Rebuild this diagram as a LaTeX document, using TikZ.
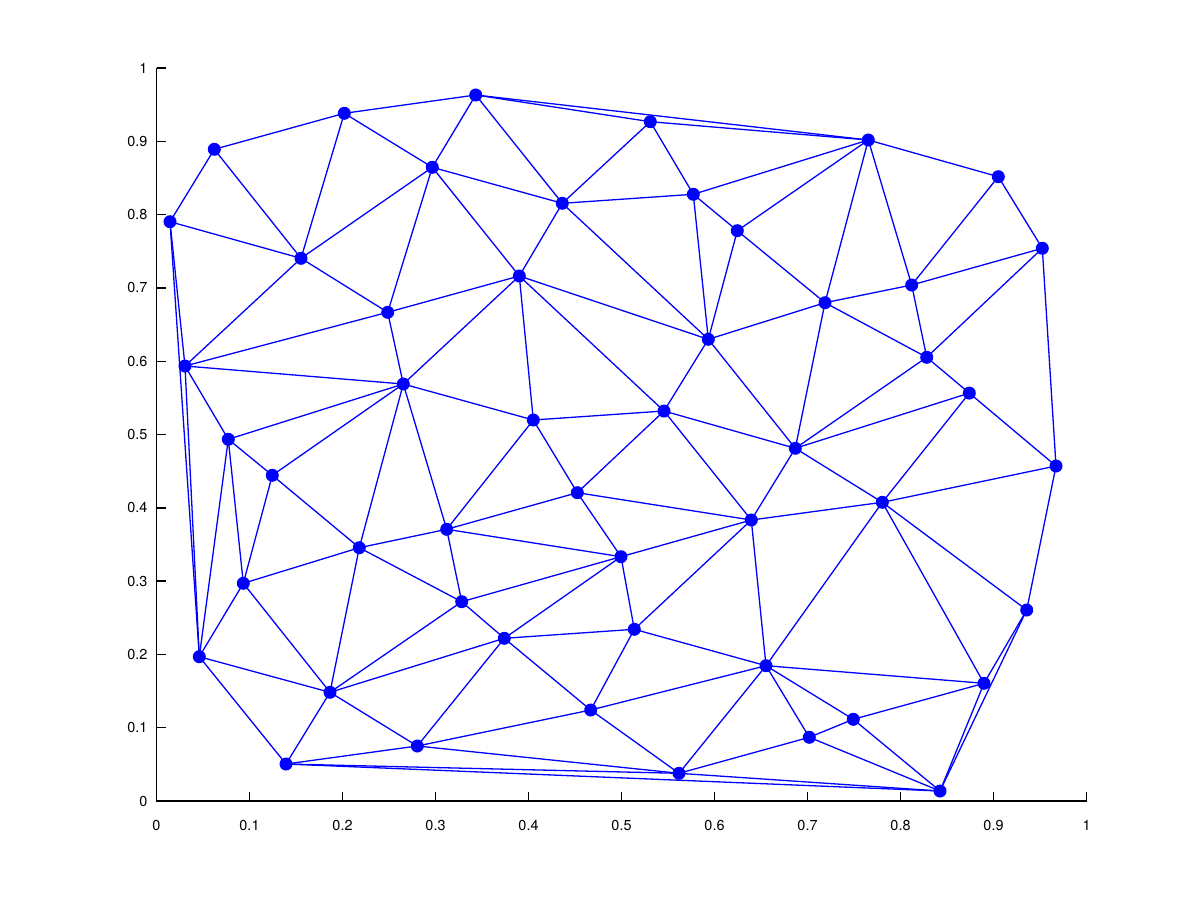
\documentclass[tikz,border=0pt]{standalone}
\usepackage{fontspec}
\setmainfont{TeX Gyre Heros}
\pgfdeclarelayer{bg}
\pgfsetlayers{bg,main}
\begin{document}
\begin{tikzpicture}[x=0.01cm,y=-0.01cm,
  edge/.style={draw=blue,line width=0.37pt},
  dot/.style={circle,fill=blue,draw=none,inner sep=0pt,minimum size=0.13cm},
  axisline/.style={draw=black,line width=0.4pt},
  lab/.style={inner sep=0pt,font=\fontsize{4.1}{5}\selectfont}]
\useasboundingbox (0,0) rectangle (1200,900);
\begin{pgfonlayer}{bg}
\fill[white] (0,0) rectangle (1200,900);
\end{pgfonlayer}
% points
\foreach \n/\px/\py in {
A/170/221.7, B/214.3/149.3, C/344.3/113.3, D/475.7/95, E/650.3/121.7,
F/868.3/140, G/998.3/176.7, H/1042.3/248.3, I/432.3/167.3, J/562.3/203.3,
K/693.3/194.3, L/737.3/230.7, M/301/258.3, N/387.7/312.3, O/519.3/276,
P/708.3/339.3, Q/825/302.7, R/911.7/285, S/926.7/357.3, T/185/366,
U/403.3/384, V/533.3/420, W/664/411, X/795.3/448.3, Y/969.3/393.1,
Z/1056/466, a/228.3/439.3, b/272.3/475.3, c/577.3/492.7, d/751.3/520,
e/882.3/502.3, f/359.3/547.7, g/446.7/529.3, h/621/556.7, i/243.3/583.3,
j/461.7/601.7, k/504.3/638.3, l/634.3/629.3, m/1026.7/610, n/199.3/656.7,
o/766/665.7, p/330/692.3, q/590.7/710, r/853.3/719.3, s/984/683.3,
t/809.3/737.3, u/417.3/746, v/286/764, w/679/773.3, x/940/791}
  \node[dot] (v\n) at (\px,\py) {};
% triangulation edges
\begin{pgfonlayer}{bg}
\foreach \a/\b in {
A/B, A/M, A/T, A/n, B/C, B/M, C/D, C/M, C/I, D/I, D/J, D/E, D/F, E/F, E/J,
E/K, F/K, F/L, F/Q, F/R, F/G, G/R, G/H, H/R, H/S, H/Z, R/S, R/Q, Q/S, S/X,
S/Y, Y/Z, Y/e, Y/X, Z/e, Z/m, e/d, e/X, e/o, e/s, e/m, P/O, P/J, P/K,
P/L, P/Q, P/W, P/X, W/O, W/V, W/c, W/X, W/d, X/d, X/Q, d/c, d/h, d/l, d/o,
U/N, U/O, U/V, U/g, U/T, U/a, U/f, T/M, T/N, T/a, T/n, a/b, a/n, a/i, b/U,
b/f, b/i, f/g, f/p, f/j, f/i, i/n, i/p, n/p, n/v, p/j, p/k, p/u, p/v, v/u,
v/w, v/x, j/g, j/h, j/k, k/h, k/l, k/q, k/u, u/q, u/w, q/l, q/o, q/w, l/h,
l/o, o/r, o/t, o/w, o/s, r/t, r/s, r/x, t/w, t/x, w/x, m/s, m/x, s/x, M/I,
M/N, N/I, N/O, I/J, I/O, J/K, J/O, O/V, K/L, L/Q, V/c, V/g, c/g, c/h, g/h}
  \draw[edge] (v\a.center) -- (v\b.center);
\end{pgfonlayer}
% axes
\coordinate (origin) at (156.5,801);
\coordinate (xend) at (1086.5,801);
\coordinate (yend) at (156.5,68);
\draw[axisline] (yend) -- (origin) -- (xend);
\foreach \i/\t in {0/0,1/0.1,2/0.2,3/0.3,4/0.4,5/0.5,6/0.6,7/0.7,8/0.8,9/0.9,10/1} {
  \draw[axisline] (156.5+93*\i,801) -- (156.5+93*\i,791.5);
  \node[lab,anchor=north] (xl\i) at (156.5+93*\i,820) {\t};
  \draw[axisline] (156.5,801-73.3*\i) -- (166,801-73.3*\i);
  \node[lab,anchor=east] (yl\i) at (148,801-73.3*\i) {\t};
}
\end{tikzpicture}
\end{document}
